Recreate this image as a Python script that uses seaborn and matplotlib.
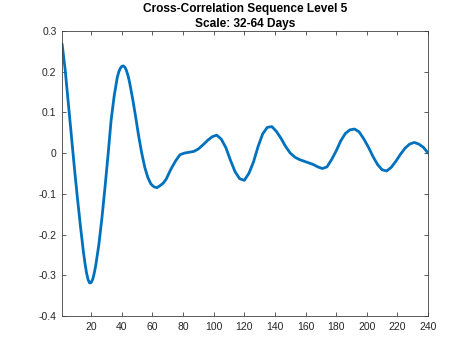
import numpy as np
import pandas as pd
import seaborn as sns
import matplotlib
matplotlib.use("Agg")
import matplotlib.pyplot as plt

# lag (days) and cross-correlation values
lags = [1, 3, 5, 7, 9, 11, 13, 15, 16, 17, 18, 19, 20, 21, 22, 23, 25, 27, 29, 31,
        33, 35, 37, 38, 39, 40, 41, 42, 43, 44, 45, 47, 49, 51, 53, 55, 57, 59, 61, 63,
        65, 67, 69, 72, 75, 78, 81, 84, 87, 90, 93, 96, 99, 102, 105,
        108, 111, 114, 117, 120, 123, 126, 129, 132, 135, 138, 141, 144,
        147, 150, 153, 156, 159, 162, 165, 168, 171, 174, 177, 180, 183,
        186, 189, 192, 195, 198, 201, 204, 207, 210, 213, 216, 219, 222,
        225, 228, 231, 234, 237, 240]
xcorr = [0.268, 0.205, 0.125, 0.045, -0.035, -0.11, -0.18, -0.245, -0.272,
         -0.295, -0.311, -0.319, -0.318, -0.31, -0.295, -0.275, -0.225, -0.16,
         -0.085, -0.005,
         0.08, 0.14, 0.185, 0.199, 0.208, 0.213, 0.214, 0.211, 0.203, 0.191,
         0.175, 0.135, 0.09, 0.042, 0.0, -0.035, -0.06, -0.076, -0.083, -0.085,
         -0.08, -0.074, -0.064, -0.04, -0.02, -0.004, 0.0, 0.002, 0.004,
         0.01, 0.02, 0.031, 0.04, 0.044, 0.034,
         0.013, -0.018, -0.046, -0.063, -0.067, -0.05, -0.022, 0.016, 0.047,
         0.063, 0.065, 0.053, 0.036,
         0.016, 0.0, -0.01, -0.016, -0.02, -0.024, -0.028, -0.034, -0.038,
         -0.034, -0.016, 0.005, 0.03,
         0.048, 0.057, 0.059, 0.052, 0.035, 0.015, -0.008, -0.028, -0.041,
         -0.044, -0.035, -0.02, -0.003,
         0.012, 0.022, 0.026, 0.022, 0.014, 0.0]

x_ticks = list(range(20, 241, 20))
y_ticks = [-0.4, -0.3, -0.2, -0.1, 0, 0.1, 0.2, 0.3]
y_labels = ['-0.4', '-0.3', '-0.2', '-0.1', '0', '0.1', '0.2', '0.3']

df = pd.DataFrame({'lag': lags, 'xcorr': xcorr})

sns.set_style("white")
plt.rcParams['font.family'] = ['Liberation Sans', 'DejaVu Sans']
plt.rcParams['axes.unicode_minus'] = False

fig = plt.figure(figsize=(4.74, 3.55), dpi=100)
ax = fig.add_axes([0.131, 0.110, 0.772, 0.803])
sns.lineplot(data=df, x='lag', y='xcorr', color='#0072BD', linewidth=2.0, ax=ax)
ax.lines[0].set_solid_joinstyle('round')

ax.set_xlim(1, 240)
ax.set_ylim(-0.4, 0.3)
ax.set_xticks(x_ticks)
ax.set_yticks(y_ticks)
ax.set_yticklabels(y_labels)
ax.set_xlabel('')
ax.set_ylabel('')
ax.tick_params(direction='in', length=3, width=0.6, colors='#404040',
               labelcolor='#262626', labelsize=7.5, top=True, right=True,
               left=True, bottom=True, pad=4)
for s in ax.spines.values():
    s.set_color('#404040')
    s.set_linewidth(0.6)

ax.set_title('Cross-Correlation Sequence Level 5\nScale: 32-64 Days',
             fontsize=8.6, fontweight='bold', color='black', pad=3,
             linespacing=1.25)

fig.savefig('out.png', dpi=100)
